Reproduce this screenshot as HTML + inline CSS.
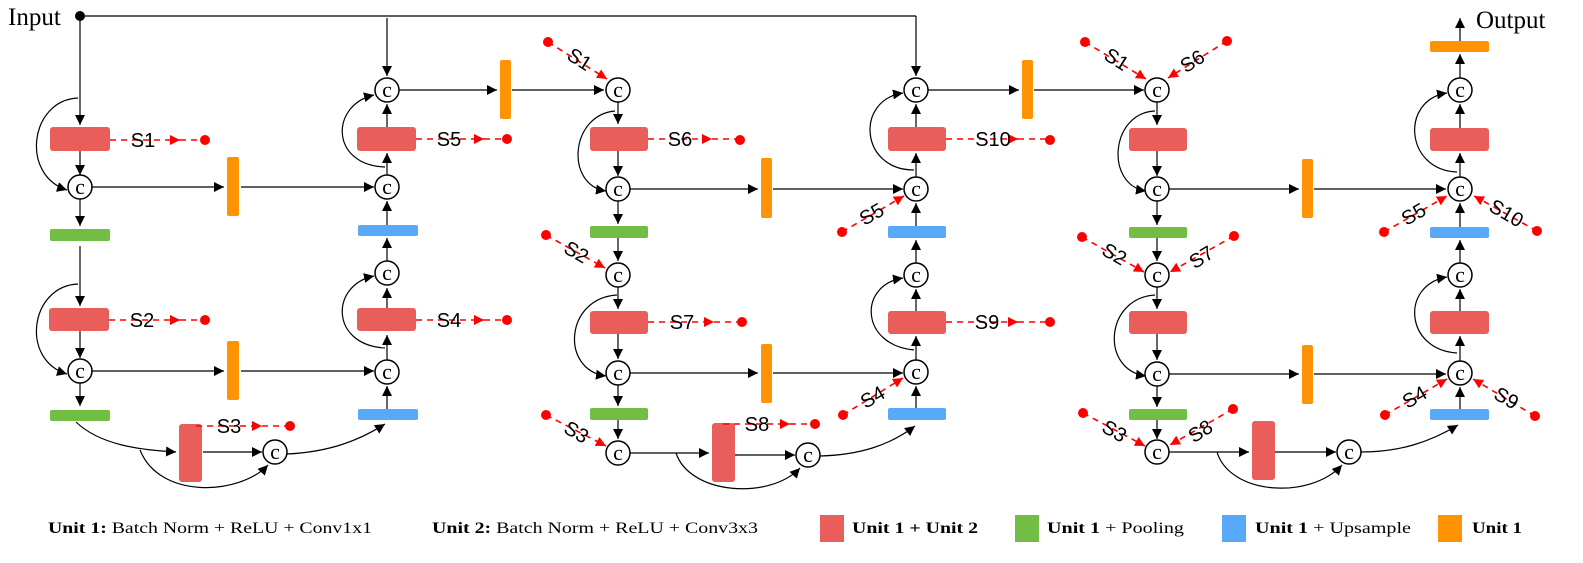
<!DOCTYPE html>
<html><head><meta charset="utf-8"><style>
html,body{margin:0;padding:0;background:#fff;}
svg{display:block;}
.k{stroke:#000;stroke-width:1.2;fill:none;}
.a{marker-end:url(#ab);}
.d{stroke:#f00;stroke-width:1.6;stroke-dasharray:6,5;fill:none;}
.dr{marker-end:url(#ar);}
.R{fill:#E95E5A;}.G{fill:#72BE44;}.B{fill:#58A9F7;}.O{fill:#FF9303;}
.c{fill:#fff;stroke:#000;stroke-width:1.5;}
.ct{font-family:"Liberation Serif",serif;font-size:22px;text-anchor:middle;}
.s{font-family:"Liberation Sans",sans-serif;font-size:20px;text-anchor:middle;fill:#000;}
.dot{fill:#f00;}
.lg{font-family:"Liberation Serif",serif;font-size:16px;}
</style></head><body>
<svg width="1583" height="563" viewBox="0 0 1583 563" xmlns="http://www.w3.org/2000/svg">
<defs>
<marker id="ab" markerUnits="userSpaceOnUse" markerWidth="10" markerHeight="10" refX="10" refY="5" orient="auto"><path d="M0,0L10,5L0,10z" fill="#000"/></marker>
<marker id="ar" markerUnits="userSpaceOnUse" markerWidth="10" markerHeight="10" refX="10" refY="5" orient="auto"><path d="M0,0L10,5L0,10z" fill="#f00"/></marker>
</defs>
<text x="8" y="25" style="font-family:'Liberation Serif',serif;font-size:25px">Input</text>
<text x="1476" y="28" style="font-family:'Liberation Serif',serif;font-size:25px">Output</text>
<circle cx="80" cy="16" r="5" fill="#000"/>
<path class="k" d="M80,16H916"/>

<!-- Column 1 -->
<path class="k a" d="M80,16V125"/>
<rect class="R" x="50" y="127" width="60" height="24" rx="3"/>
<path class="k a" d="M80,151V175"/>
<path class="k a" d="M78,98C30,100 20,175 67,190"/>
<path class="d dr" d="M110,140H180"/><path class="d" d="M180,140H205"/><circle class="dot" cx="205" cy="140" r="5"/>
<text class="s" x="143" y="147">S1</text>
<path class="k a" d="M92,187H224"/>
<rect class="O" x="227" y="157" width="12" height="59" rx="2"/>
<path class="k a" d="M241,187H374"/>
<path class="k a" d="M80,199V226"/>
<rect class="G" x="50" y="229" width="60" height="12" rx="2"/>
<path class="k a" d="M80,246V306"/>
<rect class="R" x="49" y="308" width="60" height="23" rx="3"/>
<path class="k a" d="M80,331V358"/>
<path class="k a" d="M78,284C30,286 20,360 67,374"/>
<path class="d dr" d="M109,320H180"/><path class="d" d="M180,320H205"/><circle class="dot" cx="205" cy="320" r="5"/>
<text class="s" x="142" y="327">S2</text>
<path class="k a" d="M92,371H224"/>
<rect class="O" x="227" y="341" width="12" height="59" rx="2"/>
<path class="k a" d="M241,371H374"/>
<path class="k a" d="M80,383V406"/>
<rect class="G" x="50" y="410" width="60" height="11" rx="2"/>
<path class="k a" d="M76,422C100,445 140,450 176,452"/>
<rect class="R" x="179" y="424" width="23" height="58" rx="3"/>
<path class="k a" d="M203,452H262"/>
<path class="k a" d="M140,450C160,500 240,495 268,465"/>
<path class="k a" d="M287,454C330,452 360,440 385,424"/>
<path class="d dr" d="M196,426H262"/><path class="d" d="M262,426H290"/><circle class="dot" cx="290" cy="426" r="5"/>
<text class="s" x="229" y="433">S3</text>

<!-- Column 2 -->
<path class="k a" d="M387,18V76"/>
<rect class="B" x="358" y="409" width="60" height="11" rx="2"/>
<path class="k a" d="M387,409V386"/>
<path class="k a" d="M387,360V335"/>
<rect class="R" x="357" y="308" width="59" height="23" rx="3"/>
<path class="k a" d="M387,308V288"/>
<path class="k a" d="M385,348C330,345 330,285 374,276"/>
<path class="k a" d="M387,261V238"/>
<rect class="B" x="358" y="225" width="60" height="11" rx="2"/>
<path class="k a" d="M387,225V201"/>
<path class="k a" d="M387,175V153"/>
<rect class="R" x="357" y="127" width="59" height="24" rx="3"/>
<path class="k a" d="M387,127V104"/>
<path class="k a" d="M385,167C330,165 330,105 374,95"/>
<path class="d dr" d="M416,320H484"/><path class="d" d="M484,320H507"/><circle class="dot" cx="507" cy="320" r="5"/>
<text class="s" x="449" y="327">S4</text>
<path class="d dr" d="M416,139H484"/><path class="d" d="M484,139H507"/><circle class="dot" cx="507" cy="139" r="5"/>
<text class="s" x="449" y="146">S5</text>
<path class="k a" d="M399,90H497"/>
<rect class="O" x="500" y="60" width="11" height="59" rx="2"/>
<path class="k a" d="M512,90H604"/>
<circle class="c" cx="387" cy="90" r="12"/><text class="ct" x="387" y="97">c</text>
<circle class="c" cx="387" cy="187" r="12"/><text class="ct" x="387" y="194">c</text>
<circle class="c" cx="387" cy="273" r="12"/><text class="ct" x="387" y="280">c</text>
<circle class="c" cx="387" cy="372" r="12"/><text class="ct" x="387" y="379">c</text>
<circle class="c" cx="80" cy="187" r="12"/><text class="ct" x="80" y="194">c</text>
<circle class="c" cx="80" cy="371" r="12"/><text class="ct" x="80" y="378">c</text>
<circle class="c" cx="275" cy="452" r="12"/><text class="ct" x="275" y="459">c</text>

<!-- Column 3 -->
<circle class="dot" cx="548" cy="42" r="5"/><path class="d dr" d="M548,42L607,79"/>
<text class="s" transform="translate(576,65) rotate(32)">S1</text>
<path class="k a" d="M618,102V124"/>
<rect class="R" x="590" y="127" width="58" height="24" rx="3"/>
<path class="k a" d="M615,111C570,115 565,185 606,191"/>
<path class="k a" d="M618,151V176"/>
<path class="d dr" d="M648,139H712"/><path class="d" d="M712,139H740"/><circle class="dot" cx="740" cy="140" r="5"/>
<text class="s" x="680" y="146">S6</text>
<path class="k a" d="M630,189H758"/>
<rect class="O" x="761" y="158" width="11" height="60" rx="2"/>
<path class="k a" d="M773,189H903"/>
<path class="k a" d="M618,201V224"/>
<rect class="G" x="590" y="226" width="58" height="12" rx="2"/>
<path class="k a" d="M618,238V261"/>
<circle class="dot" cx="546" cy="235" r="5"/><path class="d dr" d="M546,235L605,268"/>
<text class="s" transform="translate(573,258) rotate(30)">S2</text>
<path class="k a" d="M618,287V309"/>
<rect class="R" x="590" y="311" width="58" height="23" rx="3"/>
<path class="k a" d="M617,295C565,298 560,370 606,376"/>
<path class="d dr" d="M648,322H714"/><path class="d" d="M714,322H742"/><circle class="dot" cx="742" cy="322" r="5"/>
<text class="s" x="682" y="329">S7</text>
<path class="k a" d="M618,334V359"/>
<path class="k a" d="M630,373H758"/>
<rect class="O" x="761" y="344" width="11" height="59" rx="2"/>
<path class="k a" d="M773,373H903"/>
<path class="k a" d="M618,385V406"/>
<rect class="G" x="590" y="408" width="58" height="12" rx="2"/>
<path class="k a" d="M618,420V439"/>
<circle class="dot" cx="546" cy="415" r="5"/><path class="d dr" d="M546,415L606,446"/>
<text class="s" transform="translate(573,438) rotate(30)">S3</text>
<path class="k a" d="M630,453H709"/>
<rect class="R" x="712" y="423" width="23" height="59" rx="3"/>
<path class="k a" d="M735,455H795"/>
<path class="k a" d="M676,453C690,495 770,500 800,468"/>
<path class="k a" d="M820,456C860,455 890,445 915,426"/>
<path class="d dr" d="M723,424H790"/><path class="d" d="M790,424H815"/><circle class="dot" cx="815" cy="424" r="5"/>
<text class="s" x="757" y="431">S8</text>
<circle class="c" cx="618" cy="90" r="12"/><text class="ct" x="618" y="97">c</text>
<circle class="c" cx="618" cy="189" r="12"/><text class="ct" x="618" y="196">c</text>
<circle class="c" cx="618" cy="275" r="12"/><text class="ct" x="618" y="282">c</text>
<circle class="c" cx="618" cy="373" r="12"/><text class="ct" x="618" y="380">c</text>
<circle class="c" cx="618" cy="453" r="12"/><text class="ct" x="618" y="460">c</text>
<circle class="c" cx="808" cy="455" r="12"/><text class="ct" x="808" y="462">c</text>

<!-- Column 3b -->
<path class="k a" d="M916,16V76"/>
<rect class="R" x="888" y="127" width="58" height="24" rx="3"/>
<rect class="B" x="888" y="226" width="58" height="12" rx="2"/>
<rect class="R" x="888" y="311" width="58" height="23" rx="3"/>
<rect class="B" x="888" y="408" width="58" height="12" rx="2"/>
<path class="k a" d="M916,408V386"/><path class="k a" d="M916,360V336"/><path class="k a" d="M916,311V289"/>
<path class="k a" d="M916,263V240"/><path class="k a" d="M916,226V203"/><path class="k a" d="M916,177V153"/><path class="k a" d="M916,127V104"/>
<path class="k a" d="M914,350C860,345 858,285 903,278"/>
<path class="k a" d="M914,170C860,170 855,100 903,93"/>
<circle class="dot" cx="842" cy="232" r="5"/><path class="d dr" d="M842,232L904,196"/>
<text class="s" transform="translate(875,220) rotate(-30)">S5</text>
<circle class="dot" cx="843" cy="415" r="5"/><path class="d dr" d="M843,415L903,378"/>
<text class="s" transform="translate(876,403) rotate(-30)">S4</text>
<path class="d dr" d="M946,139H1018"/><path class="d" d="M1018,139H1050"/><circle class="dot" cx="1050" cy="140" r="5"/>
<text class="s" x="993" y="146">S10</text>
<path class="d dr" d="M946,322H1018"/><path class="d" d="M1018,322H1050"/><circle class="dot" cx="1050" cy="322" r="5"/>
<text class="s" x="987" y="329">S9</text>
<path class="k a" d="M928,90H1019"/>
<rect class="O" x="1022" y="60" width="11" height="59" rx="2"/>
<path class="k a" d="M1034,90H1144"/>
<circle class="c" cx="916" cy="90" r="12"/><text class="ct" x="916" y="97">c</text>
<circle class="c" cx="916" cy="189" r="12"/><text class="ct" x="916" y="196">c</text>
<circle class="c" cx="916" cy="275" r="12"/><text class="ct" x="916" y="282">c</text>
<circle class="c" cx="916" cy="372" r="12"/><text class="ct" x="916" y="379">c</text>

<!-- Column 4 -->
<circle class="dot" cx="1085" cy="42" r="5"/><path class="d dr" d="M1085,42L1146,79"/>
<text class="s" transform="translate(1113,65) rotate(32)">S1</text>
<circle class="dot" cx="1227" cy="41" r="5"/><path class="d dr" d="M1227,41L1168,78"/>
<text class="s" transform="translate(1196,67) rotate(-32)">S6</text>
<path class="k a" d="M1157,102V125"/>
<rect class="R" x="1129" y="128" width="58" height="23" rx="3"/>
<path class="k a" d="M1155,111C1110,113 1105,185 1146,191"/>
<path class="k a" d="M1157,151V176"/>
<path class="k a" d="M1169,189H1299"/>
<rect class="O" x="1302" y="159" width="11" height="59" rx="2"/>
<path class="k a" d="M1314,189H1446"/>
<path class="k a" d="M1157,201V225"/>
<rect class="G" x="1129" y="227" width="58" height="11" rx="2"/>
<path class="k a" d="M1157,238V261"/>
<circle class="dot" cx="1082" cy="237" r="5"/><path class="d dr" d="M1082,237L1144,272"/>
<text class="s" transform="translate(1111,260) rotate(30)">S2</text>
<circle class="dot" cx="1234" cy="236" r="5"/><path class="d dr" d="M1234,236L1170,272"/>
<text class="s" transform="translate(1205,263) rotate(-32)">S7</text>
<path class="k a" d="M1157,287V309"/>
<rect class="R" x="1129" y="311" width="58" height="23" rx="3"/>
<path class="k a" d="M1155,295C1105,298 1100,370 1146,376"/>
<path class="k a" d="M1157,334V360"/>
<path class="k a" d="M1169,374H1299"/>
<rect class="O" x="1302" y="345" width="11" height="59" rx="2"/>
<path class="k a" d="M1314,374H1446"/>
<path class="k a" d="M1157,386V407"/>
<rect class="G" x="1129" y="409" width="58" height="11" rx="2"/>
<path class="k a" d="M1157,420V439"/>
<circle class="dot" cx="1083" cy="413" r="5"/><path class="d dr" d="M1083,413L1145,446"/>
<text class="s" transform="translate(1111,437) rotate(30)">S3</text>
<circle class="dot" cx="1233" cy="409" r="5"/><path class="d dr" d="M1233,409L1170,445"/>
<text class="s" transform="translate(1204,437) rotate(-32)">S8</text>
<path class="k a" d="M1169,452H1249"/>
<rect class="R" x="1252" y="421" width="23" height="59" rx="3"/>
<path class="k a" d="M1275,452H1336"/>
<path class="k a" d="M1217,452C1230,495 1310,500 1342,465"/>
<path class="k a" d="M1361,452C1400,452 1430,442 1458,425"/>
<circle class="c" cx="1157" cy="90" r="12"/><text class="ct" x="1157" y="97">c</text>
<circle class="c" cx="1157" cy="189" r="12"/><text class="ct" x="1157" y="196">c</text>
<circle class="c" cx="1157" cy="275" r="12"/><text class="ct" x="1157" y="282">c</text>
<circle class="c" cx="1157" cy="374" r="12"/><text class="ct" x="1157" y="381">c</text>
<circle class="c" cx="1157" cy="452" r="12"/><text class="ct" x="1157" y="459">c</text>
<circle class="c" cx="1349" cy="452" r="12"/><text class="ct" x="1349" y="459">c</text>

<!-- Column 5 -->
<rect class="B" x="1430" y="409" width="59" height="11" rx="2"/>
<rect class="R" x="1430" y="311" width="59" height="23" rx="3"/>
<rect class="B" x="1430" y="227" width="59" height="11" rx="2"/>
<rect class="R" x="1430" y="128" width="59" height="23" rx="3"/>
<rect class="O" x="1430" y="41" width="59" height="11" rx="2"/>
<path class="k a" d="M1460,41V18"/>
<path class="k a" d="M1460,409V387"/><path class="k a" d="M1460,361V336"/><path class="k a" d="M1460,311V289"/>
<path class="k a" d="M1460,263V240"/><path class="k a" d="M1460,227V203"/><path class="k a" d="M1460,177V153"/>
<path class="k a" d="M1460,128V104"/><path class="k a" d="M1460,78V54"/>
<path class="k a" d="M1457,353C1405,350 1400,285 1447,277"/>
<path class="k a" d="M1457,172C1405,170 1400,100 1447,93"/>
<circle class="dot" cx="1384" cy="232" r="5"/><path class="d dr" d="M1384,232L1447,196"/>
<text class="s" transform="translate(1417,220) rotate(-30)">S5</text>
<circle class="dot" cx="1537" cy="231" r="5"/><path class="d dr" d="M1537,231L1474,196"/>
<text class="s" transform="translate(1503,219) rotate(30)">S10</text>
<circle class="dot" cx="1385" cy="415" r="5"/><path class="d dr" d="M1385,415L1447,379"/>
<text class="s" transform="translate(1418,403) rotate(-30)">S4</text>
<circle class="dot" cx="1535" cy="416" r="5"/><path class="d dr" d="M1535,416L1473,379"/>
<text class="s" transform="translate(1503,404) rotate(30)">S9</text>
<circle class="c" cx="1460" cy="90" r="12"/><text class="ct" x="1460" y="97">c</text>
<circle class="c" cx="1460" cy="189" r="12"/><text class="ct" x="1460" y="196">c</text>
<circle class="c" cx="1460" cy="275" r="12"/><text class="ct" x="1460" y="282">c</text>
<circle class="c" cx="1460" cy="373" r="12"/><text class="ct" x="1460" y="380">c</text>

<!-- Legend -->
<text class="lg" x="48" y="533" textLength="324" lengthAdjust="spacingAndGlyphs"><tspan font-weight="bold">Unit 1:</tspan> Batch Norm + ReLU + Conv1x1</text>
<text class="lg" x="432" y="533" textLength="326" lengthAdjust="spacingAndGlyphs"><tspan font-weight="bold">Unit 2:</tspan> Batch Norm + ReLU + Conv3x3</text>
<rect class="R" x="820" y="515" width="24" height="27"/>
<text class="lg" x="852" y="533" font-weight="bold" textLength="126" lengthAdjust="spacingAndGlyphs">Unit 1 + Unit 2</text>
<rect class="G" x="1015" y="515" width="24" height="27"/>
<text class="lg" x="1047" y="533" textLength="137" lengthAdjust="spacingAndGlyphs"><tspan font-weight="bold">Unit 1</tspan> + Pooling</text>
<rect class="B" x="1222" y="515" width="24" height="27"/>
<text class="lg" x="1255" y="533" textLength="156" lengthAdjust="spacingAndGlyphs"><tspan font-weight="bold">Unit 1</tspan> + Upsample</text>
<rect class="O" x="1438" y="515" width="24" height="27"/>
<text class="lg" x="1472" y="533" font-weight="bold" textLength="50" lengthAdjust="spacingAndGlyphs">Unit 1</text>
</svg>
</body></html>
